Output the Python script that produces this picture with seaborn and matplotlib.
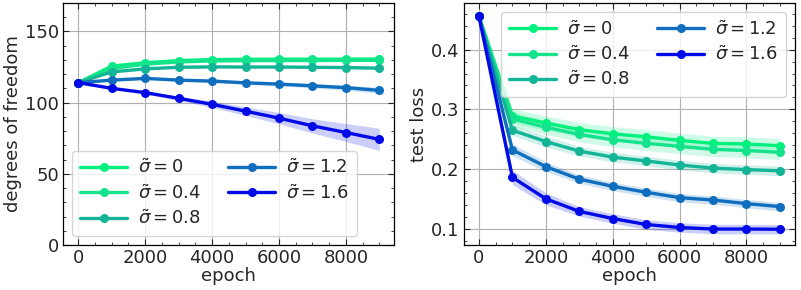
import numpy as np
import pandas as pd
import seaborn as sns
import matplotlib.pyplot as plt
from matplotlib.ticker import AutoMinorLocator

# epochs and noise levels
epochs = [0, 1000, 2000, 3000, 4000, 5000, 6000, 7000, 8000, 9000]
sigmas = ["0", "0.4", "0.8", "1.2", "1.6"]
colors = ["#00F07E", "#14E38C", "#14B496", "#0F6EBE", "#000AE6"]

# degrees of freedom (mean, spread)
dof_0 = [114, 125.6, 128.0, 129.5, 130.2, 130.4, 130.5, 130.5, 130.5, 130.6]
dof_04 = [114, 124.0, 127.0, 128.6, 129.3, 129.5, 129.6, 129.6, 129.7, 129.7]
dof_08 = [114, 121.6, 123.7, 124.8, 125.1, 125.0, 125.0, 124.8, 124.6, 124.2]
dof_12 = [114, 115.8, 117.0, 115.8, 115.1, 113.9, 113.0, 111.8, 110.5, 108.6]
dof_16 = [114, 110.0, 107.0, 103.0, 98.8, 94.0, 89.1, 83.7, 79.0, 74.2]
dof_sd_0 = [0, 1.0, 1.0, 1.0, 1.0, 1.0, 1.0, 1.0, 1.0, 1.0]
dof_sd_04 = [0, 1.0, 1.0, 1.0, 1.0, 1.0, 1.0, 1.0, 1.0, 1.0]
dof_sd_08 = [0, 0.8, 0.8, 0.8, 0.8, 0.8, 0.8, 0.8, 0.8, 0.8]
dof_sd_12 = [0, 0.8, 0.8, 0.9, 1.0, 1.1, 1.3, 1.5, 1.8, 2.1]
dof_sd_16 = [0, 0.5, 1.0, 1.5, 2.2, 3.0, 4.0, 5.0, 6.3, 7.8]

# test loss (mean, spread)
loss_0 = [0.456, 0.289, 0.277, 0.266, 0.259, 0.254, 0.248, 0.243, 0.242, 0.239]
loss_04 = [0.456, 0.284, 0.270, 0.258, 0.249, 0.243, 0.238, 0.233, 0.231, 0.228]
loss_08 = [0.456, 0.265, 0.246, 0.230, 0.220, 0.2135, 0.2067, 0.2015, 0.199, 0.197]
loss_12 = [0.456, 0.232, 0.204, 0.183, 0.171, 0.161, 0.152, 0.148, 0.142, 0.137]
loss_16 = [0.456, 0.186, 0.150, 0.129, 0.117, 0.107, 0.102, 0.0994, 0.0994, 0.099]
loss_sd_0 = [0.004, 0.012, 0.012, 0.012, 0.012, 0.012, 0.012, 0.012, 0.012, 0.012]
loss_sd_04 = [0.004, 0.012, 0.012, 0.012, 0.012, 0.012, 0.012, 0.012, 0.012, 0.012]
loss_sd_08 = [0.004, 0.009, 0.009, 0.008, 0.008, 0.008, 0.008, 0.008, 0.008, 0.008]
loss_sd_12 = [0.004, 0.010, 0.008, 0.007, 0.007, 0.007, 0.007, 0.007, 0.007, 0.007]
loss_sd_16 = [0.004, 0.012, 0.010, 0.008, 0.008, 0.008, 0.008, 0.008, 0.008, 0.008]

dof_means = [dof_0, dof_04, dof_08, dof_12, dof_16]
dof_sds = [dof_sd_0, dof_sd_04, dof_sd_08, dof_sd_12, dof_sd_16]
loss_means = [loss_0, loss_04, loss_08, loss_12, loss_16]
loss_sds = [loss_sd_0, loss_sd_04, loss_sd_08, loss_sd_12, loss_sd_16]

sns.set_theme(style="ticks")
plt.rcParams["font.family"] = ["DejaVu Sans"]
plt.rcParams["mathtext.fontset"] = "dejavusans"
plt.rcParams["font.size"] = 13

labels = [rf"$\tilde{{\sigma}} = {s}$" for s in sigmas]
palette = dict(zip(labels, colors))


def make_frame(means, sds):
    rows = []
    for lab, m, s in zip(labels, means, sds):
        for e, v, d in zip(epochs, m, s):
            rows.append({"epoch": e, "value": v, "sd": d, "sigma": lab})
    return pd.DataFrame(rows)


fig, axes = plt.subplots(1, 2, figsize=(8.01, 2.9), dpi=100)
fig.subplots_adjust(left=0.079, right=0.9925, bottom=0.155, top=0.99, wspace=0.21)

panels = [
    (axes[0], make_frame(dof_means, dof_sds), "degrees of freedom", "lower left"),
    (axes[1], make_frame(loss_means, loss_sds), "test loss", "upper right"),
]

for ax, df, ylabel, loc in panels:
    for lab in labels:
        sub = df[df["sigma"] == lab]
        ax.fill_between(sub["epoch"], sub["value"] - sub["sd"], sub["value"] + sub["sd"],
                        color=palette[lab], alpha=0.2, linewidth=0)
    sns.lineplot(data=df, x="epoch", y="value", hue="sigma", palette=palette,
                 marker="o", markersize=6.5, markeredgewidth=0, linewidth=2.4, ax=ax)
    ax.set_xlabel("epoch", fontsize=13, labelpad=0)
    ax.set_ylabel(ylabel, fontsize=13, labelpad=2)
    ax.grid(True, which="major", color="#b0b0b0", linewidth=0.8)
    ax.xaxis.set_minor_locator(AutoMinorLocator(4))
    ax.yaxis.set_minor_locator(AutoMinorLocator(5))
    ax.tick_params(which="both", direction="in", top=True, right=True, labelsize=13)
    ax.tick_params(which="major", length=4, width=0.8, pad=3)
    ax.tick_params(which="minor", length=2, width=0.6)
    for sp in ax.spines.values():
        sp.set_linewidth(0.9)
        sp.set_color("black")
    ax.legend(loc=loc, ncol=2, fontsize=13, handlelength=2.6, columnspacing=1.5,
              labelspacing=0.38, borderpad=0.45, handletextpad=0.6, framealpha=0.8,
              title=None)

axes[0].set_ylim(0, 170)
axes[0].set_yticks([0, 50, 100, 150])
axes[0].set_xticks([0, 2000, 4000, 6000, 8000])
axes[1].set_xticks([0, 2000, 4000, 6000, 8000])
axes[1].set_yticks([0.1, 0.2, 0.3, 0.4])

fig.savefig("out.png", dpi=100)
